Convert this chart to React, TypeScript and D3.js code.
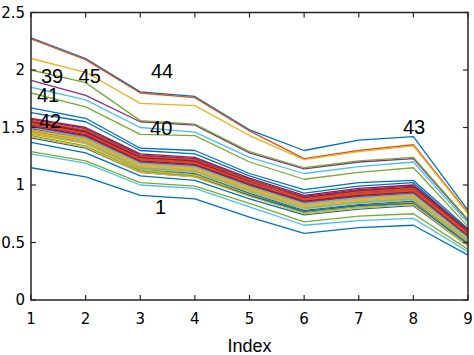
import React from 'react';
import * as d3 from 'd3';

const xIndex = [1, 2, 3, 4, 5, 6, 7, 8, 9];
const xTicks = [1, 2, 3, 4, 5, 6, 7, 8, 9];
const yTicks = [0, 0.5, 1, 1.5, 2, 2.5];
const colors = ['#0072BD', '#D95319', '#EDB120', '#7E2F8E', '#77AC30', '#4DBEEE', '#A2142F'];

const s01 = [1.15, 1.07, 0.91, 0.88, 0.72, 0.58, 0.63, 0.65, 0.39];
const s02 = [1.52, 1.44, 1.22, 1.19, 1.01, 0.86, 0.92, 0.95, 0.56];
const s03 = [1.44, 1.36, 1.13, 1.09, 0.92, 0.77, 0.82, 0.85, 0.49];
const s04 = [1.50, 1.42, 1.20, 1.17, 1.00, 0.85, 0.91, 0.94, 0.56];
const s05 = [1.46, 1.38, 1.15, 1.12, 0.95, 0.80, 0.85, 0.88, 0.51];
const s06 = [1.48, 1.40, 1.18, 1.15, 0.98, 0.83, 0.88, 0.91, 0.54];
const s07 = [1.54, 1.46, 1.24, 1.21, 1.03, 0.88, 0.94, 0.97, 0.58];
const s08 = [1.45, 1.37, 1.14, 1.10, 0.93, 0.78, 0.83, 0.86, 0.50];
const s09 = [1.49, 1.41, 1.19, 1.16, 0.99, 0.84, 0.89, 0.92, 0.55];
const s10 = [1.47, 1.39, 1.17, 1.14, 0.97, 0.82, 0.87, 0.90, 0.53];
const s11 = [1.55, 1.47, 1.25, 1.22, 1.04, 0.89, 0.95, 0.98, 0.59];
const s12 = [1.43, 1.34, 1.12, 1.08, 0.91, 0.76, 0.81, 0.84, 0.48];
const s13 = [1.51, 1.43, 1.21, 1.18, 1.00, 0.85, 0.90, 0.93, 0.55];
const s14 = [1.53, 1.45, 1.23, 1.20, 1.02, 0.87, 0.93, 0.96, 0.57];
const s15 = [1.37, 1.28, 1.08, 1.04, 0.88, 0.74, 0.79, 0.82, 0.47];
const s16 = [1.54, 1.45, 1.23, 1.20, 1.02, 0.87, 0.93, 0.96, 0.57];
const s17 = [1.45, 1.36, 1.14, 1.11, 0.94, 0.79, 0.84, 0.87, 0.50];
const s18 = [1.49, 1.41, 1.20, 1.17, 0.99, 0.85, 0.90, 0.93, 0.55];
const s19 = [1.47, 1.38, 1.16, 1.13, 0.96, 0.81, 0.86, 0.89, 0.52];
const s20 = [1.46, 1.37, 1.15, 1.12, 0.95, 0.80, 0.85, 0.88, 0.51];
const s21 = [1.56, 1.47, 1.25, 1.22, 1.04, 0.89, 0.95, 0.98, 0.59];
const s22 = [1.41, 1.32, 1.11, 1.07, 0.91, 0.77, 0.82, 0.84, 0.49];
const s23 = [1.50, 1.42, 1.21, 1.18, 1.00, 0.86, 0.91, 0.94, 0.56];
const s24 = [1.48, 1.40, 1.18, 1.15, 0.98, 0.83, 0.88, 0.91, 0.54];
const s25 = [1.52, 1.44, 1.22, 1.19, 1.01, 0.86, 0.92, 0.95, 0.56];
const s26 = [1.29, 1.21, 1.02, 0.99, 0.84, 0.68, 0.73, 0.75, 0.44];
const s27 = [1.50, 1.41, 1.19, 1.16, 0.99, 0.84, 0.89, 0.92, 0.54];
const s28 = [1.55, 1.46, 1.24, 1.21, 1.03, 0.88, 0.94, 0.97, 0.58];
const s29 = [1.63, 1.55, 1.30, 1.27, 1.08, 0.93, 0.99, 1.02, 0.60];
const s30 = [1.56, 1.48, 1.25, 1.22, 1.04, 0.88, 0.94, 0.97, 0.58];
const s31 = [1.46, 1.38, 1.16, 1.13, 0.96, 0.81, 0.86, 0.89, 0.52];
const s32 = [1.57, 1.49, 1.26, 1.23, 1.05, 0.90, 0.96, 0.99, 0.60];
const s33 = [1.80, 1.68, 1.44, 1.43, 1.20, 1.05, 1.11, 1.15, 0.64];
const s34 = [1.27, 1.19, 1.00, 0.97, 0.81, 0.65, 0.69, 0.71, 0.42];
const s35 = [1.51, 1.43, 1.21, 1.18, 1.00, 0.86, 0.91, 0.94, 0.56];
const s36 = [1.67, 1.58, 1.32, 1.30, 1.10, 0.96, 1.02, 1.04, 0.62];
const s37 = [1.53, 1.45, 1.22, 1.19, 1.02, 0.87, 0.92, 0.95, 0.57];
const s38 = [1.42, 1.33, 1.11, 1.07, 0.90, 0.75, 0.80, 0.83, 0.47];
const s39 = [1.91, 1.78, 1.55, 1.52, 1.28, 1.14, 1.20, 1.23, 0.69];
const s40 = [2.00, 1.89, 1.56, 1.53, 1.29, 1.15, 1.21, 1.24, 0.70];
const s41 = [1.85, 1.74, 1.50, 1.46, 1.24, 1.10, 1.16, 1.20, 0.67];
const s42 = [1.58, 1.50, 1.27, 1.24, 1.06, 0.91, 0.97, 1.00, 0.61];
const s43 = [2.28, 2.10, 1.81, 1.77, 1.48, 1.30, 1.39, 1.42, 0.78];
const s44 = [2.27, 2.09, 1.80, 1.76, 1.47, 1.23, 1.30, 1.35, 0.76];
const s45 = [2.10, 1.98, 1.71, 1.69, 1.43, 1.22, 1.29, 1.34, 0.75];

const series = [
  s01, s02, s03, s04, s05, s06, s07, s08, s09, s10,
  s11, s12, s13, s14, s15, s16, s17, s18, s19, s20,
  s21, s22, s23, s24, s25, s26, s27, s28, s29, s30,
  s31, s32, s33, s34, s35, s36, s37, s38, s39, s40,
  s41, s42, s43, s44, s45,
];

const labelText = ['39', '45', '44', '41', '42', '40', '43', '1'];
const labelX = [1.183, 1.87, 3.197, 1.11, 1.146, 3.18, 7.81, 3.27];
const labelY = [1.948, 1.948, 1.996, 1.785, 1.557, 1.496, 1.504, 0.809];

const W = 474;
const H = 355;
const left = 31;
const right = 468;
const top = 12.5;
const bottom = 300;
const axisColor = '#262626';
const tickFont = 'DejaVu Sans, sans-serif';
const textFont = 'Liberation Sans, Arial, sans-serif';

export default function App() {
  const x = d3.scaleLinear().domain([1, 9]).range([left, right]);
  const y = d3.scaleLinear().domain([0, 2.5]).range([bottom, top]);
  const line = d3
    .line<number>()
    .x((_, i) => x(xIndex[i]))
    .y((d) => y(d));
  const tl = 5;

  return (
    <svg
      width={W}
      height={H}
      style={{ position: 'absolute', left: 0, top: 0, background: '#fff' }}
    >
      <rect x={0} y={0} width={W} height={H} fill="#fff" />
      <g>
        {series.map((s, i) => (
          <path
            key={i}
            d={line(s) || ''}
            fill="none"
            stroke={colors[i % colors.length]}
            strokeWidth={1.3}
            strokeLinejoin="round"
          />
        ))}
      </g>
      <rect
        x={left}
        y={top}
        width={right - left}
        height={bottom - top}
        fill="none"
        stroke={axisColor}
        strokeWidth={1.5}
      />
      {xTicks.map((t) => (
        <g key={'x' + t}>
          <line x1={x(t)} x2={x(t)} y1={bottom} y2={bottom - tl} stroke={axisColor} strokeWidth={1.2} />
          <line x1={x(t)} x2={x(t)} y1={top} y2={top + tl} stroke={axisColor} strokeWidth={1.2} />
          <text
            x={x(t)}
            y={bottom + 24}
            textAnchor="middle"
            fontFamily={tickFont}
            fontSize={15}
            fill="#000"
          >
            {t}
          </text>
        </g>
      ))}
      {yTicks.map((t) => (
        <g key={'y' + t}>
          <line x1={left} x2={left + tl} y1={y(t)} y2={y(t)} stroke={axisColor} strokeWidth={1.2} />
          <line x1={right} x2={right - tl} y1={y(t)} y2={y(t)} stroke={axisColor} strokeWidth={1.2} />
          <text
            x={left - 6}
            y={y(t)}
            dy="0.36em"
            textAnchor="end"
            fontFamily={tickFont}
            fontSize={15}
            fill="#000"
          >
            {t}
          </text>
        </g>
      ))}
      <text
        x={(left + right) / 2}
        y={352}
        textAnchor="middle"
        fontFamily={textFont}
        fontSize={18}
        fill="#000"
      >
        Index
      </text>
      {labelText.map((t, i) => (
        <text
          key={'l' + i}
          x={x(labelX[i])}
          y={y(labelY[i])}
          dy="0.36em"
          fontFamily={textFont}
          fontSize={20}
          fill="#000"
        >
          {t}
        </text>
      ))}
    </svg>
  );
}
